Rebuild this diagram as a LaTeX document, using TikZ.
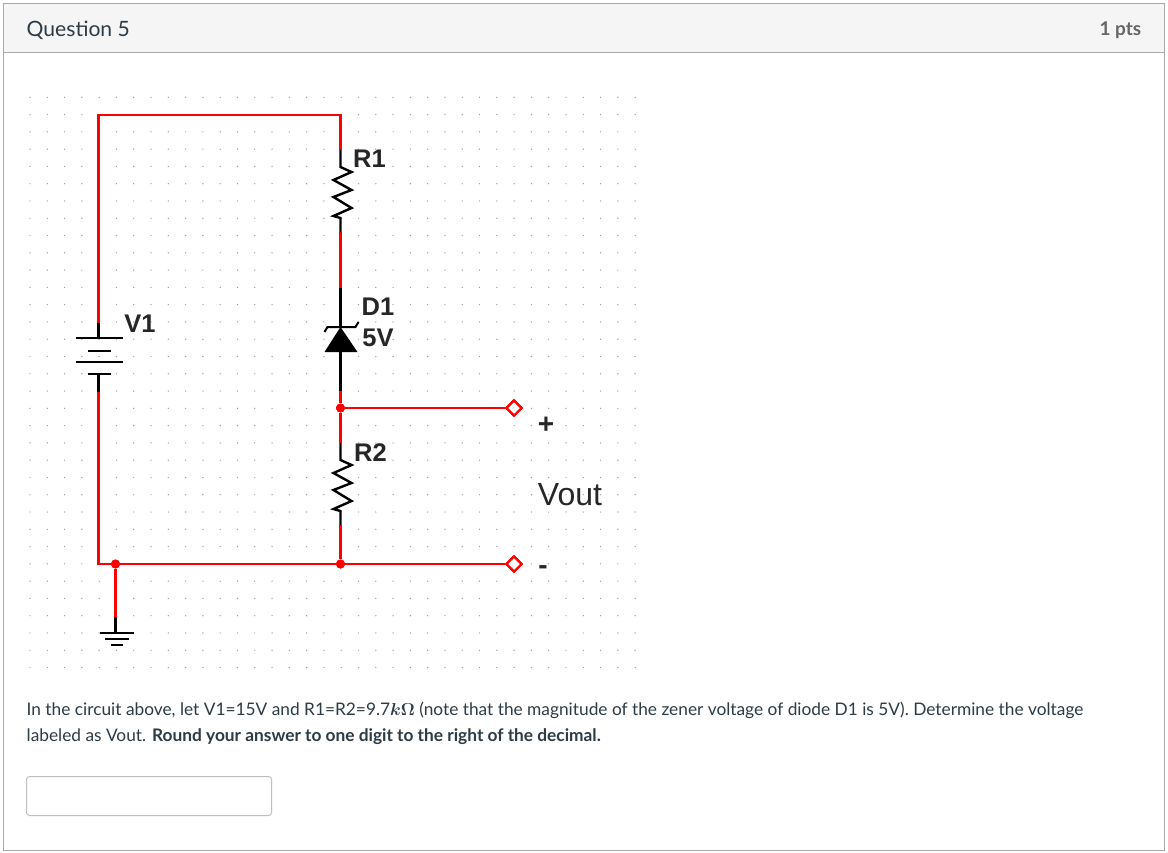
\documentclass[tikz,border=0pt]{standalone}
\usepackage{amsmath, amssymb}
\usepackage{fontspec}
\setmainfont{Lato}
\newfontfamily\schemfont{Liberation Sans}
\usepackage{tikz}
\usetikzlibrary{positioning, shapes.geometric, arrows.meta}
\definecolor{wirered}{HTML}{FF0000}
\definecolor{inktext}{HTML}{2D3B45}
\definecolor{frameline}{HTML}{A9A9A9}
\tikzset{
    wire/.style={draw=wirered, line width=2.4pt},
    lead/.style={draw=black, line width=2.4pt},
    plate/.style={draw=black, line width=2pt},
    junction/.style={circle, fill=wirered, inner sep=0pt, minimum size=9pt},
    terminal/.style={diamond, draw=wirered, fill=white, line width=2.2pt, inner sep=0pt, minimum size=16pt},
    partlabel/.style={font=\schemfont\bfseries\fontsize{25.5}{27}\selectfont, inner sep=0pt, text=black!85},
    outlabel/.style={font=\schemfont\fontsize{32}{34}\selectfont, inner sep=0pt, text=black!85},
    signlabel/.style={font=\schemfont\bfseries\fontsize{28}{30}\selectfont, inner sep=0pt, text=black!85},
    bodytext/.style={font=\fontsize{17.3}{26}\selectfont, inner sep=0pt, text=inktext, anchor=base west},
    pics/resistor/.style={code={
        \draw [lead, line join=miter] (0,0) -- (0,17) -- (11,22) -- (-7,30) -- (11,40) -- (-7,47) -- (11,58) -- (-7,66) -- (0,68) -- (0,82);
    }},
}

\begin{document}
\begin{tikzpicture}[x=1pt, y=-1pt]
    \useasboundingbox (0,0) rectangle (1168,852);

    % page frame
    \node [draw=frameline, line width=1.2pt, fill=white, minimum width=1161pt, minimum height=847.5pt, inner sep=0pt, anchor=north west] (frame) at (3,2.5) {};
    \node [draw=frameline, line width=1.2pt, fill=black!4, minimum width=1161pt, minimum height=49.5pt, inner sep=0pt, anchor=north west] (header) at (3,2.5) {};
    \node [font=\fontsize{21.1}{24}\selectfont, inner sep=0pt, text=inktext, anchor=base west] (title) at (26.5,36) {Question 5};
    \node [font=\bfseries\fontsize{19}{24}\selectfont, inner sep=0pt, text=black!60, anchor=base east] (points) at (1141.5,35) {1 pts};

    % grid dots
    \foreach \i in {0,...,35}
        \foreach \j in {0,...,33}
            \fill [black!38] (30+17.29*\i, 97.3+17.28*\j) circle (0.7pt);

    % corners and wire ends
    \coordinate (TL) at (98.5,115);
    \coordinate [right=242pt of TL] (TR);
    \coordinate [below=35pt of TR] (R1a);
    \coordinate [below=82pt of R1a] (R1b);
    \coordinate [below=56pt of R1b] (D1a);
    \coordinate [below=39pt of D1a] (D1k);
    \coordinate [below=25pt of D1k] (D1b);
    \coordinate [below=39pt of D1b] (D1c);
    \coordinate [below=52pt of D1c] (R2a);
    \coordinate [below=82pt of R2a] (R2b);
    \coordinate [below=208pt of TL] (V1a);
    \coordinate [below=15pt of V1a] (V1p);
    \coordinate [below=36pt of V1p] (V1n);
    \coordinate [below=18pt of V1n] (V1b);
    \coordinate (BL) at (98.5,564);
    \coordinate (G1) at (115.5,617);
    \coordinate [below=16pt of G1] (G2);

    \node [junction] (J1) at (340.5,408) {};
    \node [junction] (J2) at (340.5,564) {};
    \node [junction] (J3) at (115.5,564) {};
    \node [terminal] (T1) at (514,408) {};
    \node [terminal] (T2) at (514,564) {};

    % red wires
    \draw [wire] (V1a) -- (TL) -- (TR) -- (R1a);
    \draw [wire] (R1b) -- (D1a);
    \draw [wire] (D1c) -- (J1);
    \draw [wire] (J1) -- (R2a);
    \draw [wire] (R2b) -- (J2);
    \draw [wire] (V1b) -- (BL) -- (J3);
    \draw [wire] (J3) -- (J2);
    \draw [wire] (J2) -- (T2);
    \draw [wire] (J1) -- (T1);
    \draw [wire] (J3) -- (G1);
    \node [junction] at (J1) {};
    \node [junction] at (J2) {};
    \node [junction] at (J3) {};
    \node [terminal] at (T1) {};
    \node [terminal] at (T2) {};

    % resistors
    \pic at (R1a) {resistor};
    \pic at (R2a) {resistor};

    % zener
    \draw [lead] (D1a) -- (D1k);
    \draw [lead] (D1b) -- (D1c);
    \fill [black] (D1k) -- ++(17,25) -- ++(-33,0) -- cycle;
    \draw [plate] ([xshift=-16pt, yshift=-5pt]D1k) -- ([xshift=-13pt]D1k) -- ([xshift=15pt]D1k) -- ([xshift=18pt, yshift=5pt]D1k);

    % battery
    \draw [lead] (V1a) -- (V1p);
    \draw [lead] (V1n) -- (V1b);
    \draw [plate] ([xshift=-23pt]V1p) -- ([xshift=24pt]V1p);
    \draw [plate] ([xshift=-11pt, yshift=-13pt]V1p) -- ([xshift=12pt, yshift=-13pt]V1p);
    \draw [plate] ([xshift=-23pt, yshift=-24pt]V1p) -- ([xshift=24pt, yshift=-24pt]V1p);
    \draw [plate] ([xshift=-11pt]V1n) -- ([xshift=12pt]V1n);

    % ground
    \draw [lead] (G1) -- (G2);
    \draw [plate] ([xshift=-16pt]G2) -- ([xshift=18pt]G2);
    \draw [plate] ([xshift=-11pt, yshift=-6pt]G2) -- ([xshift=13pt, yshift=-6pt]G2);
    \draw [plate] ([xshift=-5pt, yshift=-12pt]G2) -- ([xshift=7pt, yshift=-12pt]G2);

    % labels
    \node [partlabel] (LR1) at (369.5,158.5) {R1};
    \node [partlabel] (LR2) at (370.5,452.5) {R2};
    \node [partlabel] (LD1) at (378,306.5) {D1};
    \node [partlabel] (LZ) at (378,337.5) {5V};
    \node [partlabel] (LV1) at (140,323.5) {V1};
    \node [signlabel] (plus) at (546,425) {+};
    \node [outlabel] (vout) at (570,494.5) {Vout};
    \node [signlabel] (minus) at (543,570) {-};

    % question text
    \node [bodytext] (line1) at (26.5,715) {In the circuit above, let V1=15V and R1=R2=9.7$\boldsymbol{k\Omega}$ (note that the magnitude of the zener voltage of diode D1 is 5V). Determine the voltage};
    \node [bodytext] (line2) at (26.5,741) {labeled as Vout. \textbf{Round your answer to one digit to the right of the decimal.}};

    % answer box
    \node [draw=black!25, line width=1pt, rounded corners=3pt, fill=white, minimum width=245pt, minimum height=39pt, inner sep=0pt, anchor=north west] (answer) at (26,776) {};
\end{tikzpicture}
\end{document}
